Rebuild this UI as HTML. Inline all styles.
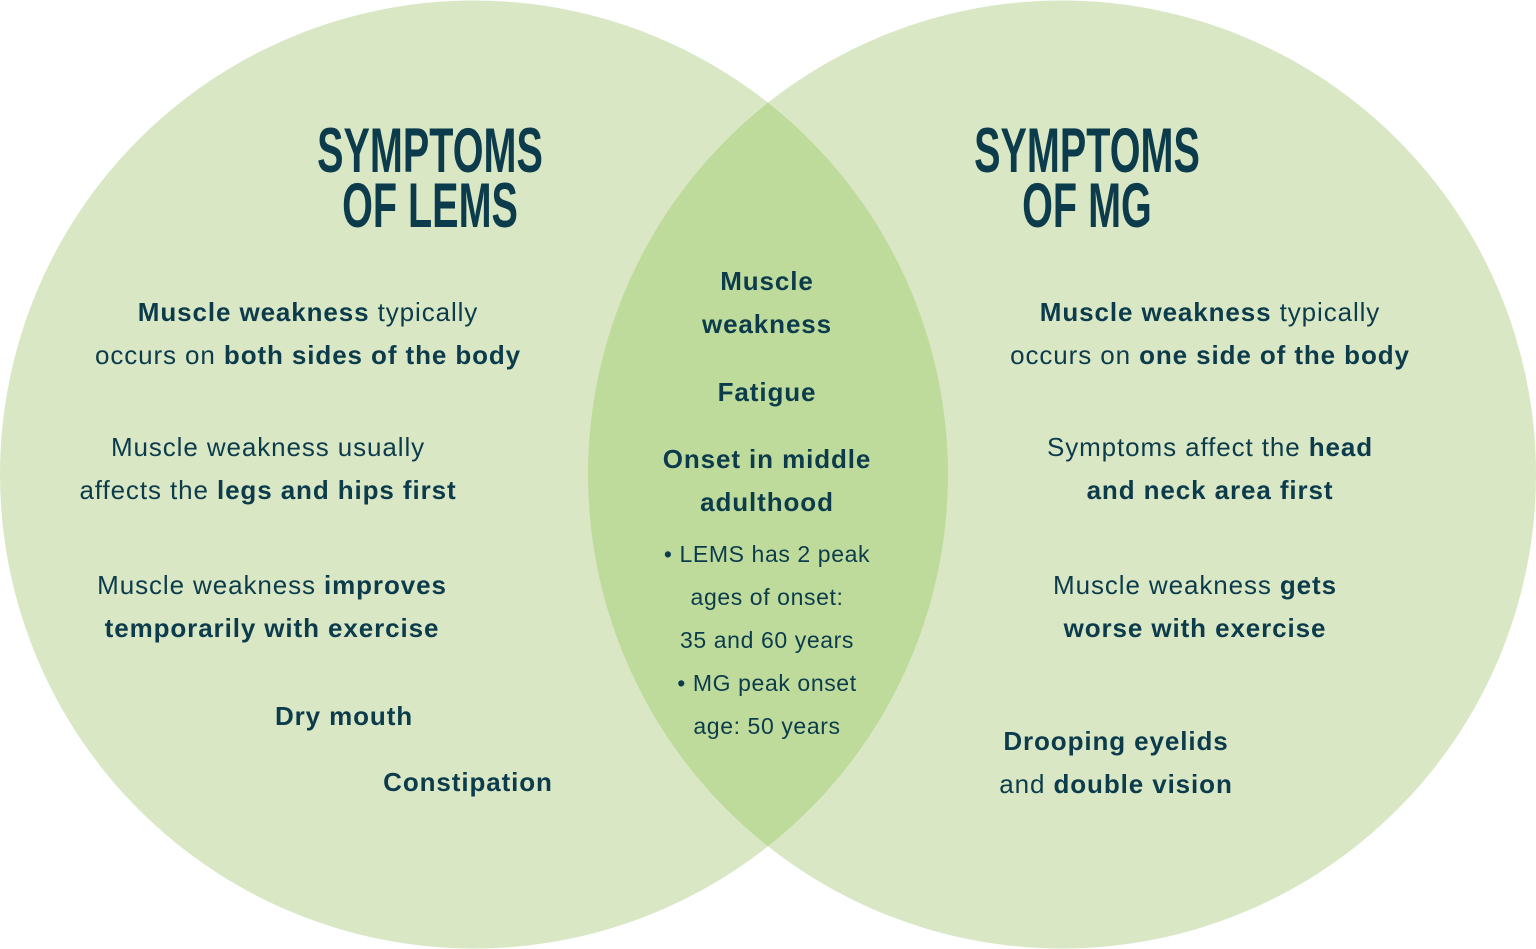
<!DOCTYPE html>
<html><head><meta charset="utf-8"><style>
body{margin:0;width:1536px;height:949px;background:#fff;position:relative;overflow:hidden;font-family:"Liberation Sans",sans-serif;color:#0c3c4c}
.l{position:absolute;width:600px;height:40px;line-height:40px;text-align:center;font-size:26px;white-space:nowrap;letter-spacing:0.9px}
.s{font-size:23px;letter-spacing:0.6px}
.t{position:absolute;width:600px;height:60px;line-height:60px;text-align:center;font-size:63px;font-weight:bold;transform:scaleX(0.628);white-space:nowrap;color:#0c3c4c}
b{font-weight:bold}
</style></head><body>
<svg width="1536" height="949" style="position:absolute;left:0;top:0">
<defs><clipPath id="c"><circle cx="474" cy="474.5" r="474"/></clipPath></defs>
<circle cx="474" cy="474.5" r="474" fill="#d9e7c5"/>
<circle cx="1062" cy="474.5" r="474" fill="#d9e7c5"/>
<circle cx="1062" cy="474.5" r="474" fill="#bedb9c" clip-path="url(#c)"/>
</svg>
<div class="t" style="left:130px;top:121px">SYMPTOMS</div>
<div class="t" style="left:130px;top:176px">OF LEMS</div>
<div class="t" style="left:787px;top:121px">SYMPTOMS</div>
<div class="t" style="left:787px;top:176px">OF MG</div>

<div class="l" style="left:8px;top:292px"><b>Muscle weakness</b> typically</div>
<div class="l" style="left:8px;top:335px">occurs on <b>both sides of the body</b></div>
<div class="l" style="left:-32px;top:427px">Muscle weakness usually</div>
<div class="l" style="left:-32px;top:470px">affects the <b>legs and hips first</b></div>
<div class="l" style="left:-28px;top:565px">Muscle weakness <b>improves</b></div>
<div class="l" style="left:-28px;top:608px"><b>temporarily with exercise</b></div>
<div class="l" style="left:44px;top:696px"><b>Dry mouth</b></div>
<div class="l" style="left:168px;top:762px"><b>Constipation</b></div>

<div class="l" style="left:467px;top:261px"><b>Muscle</b></div>
<div class="l" style="left:467px;top:304px"><b>weakness</b></div>
<div class="l" style="left:467px;top:372px"><b>Fatigue</b></div>
<div class="l" style="left:467px;top:439px"><b>Onset in middle</b></div>
<div class="l" style="left:467px;top:482px"><b>adulthood</b></div>
<div class="l s" style="left:467px;top:534px">• LEMS has 2 peak</div>
<div class="l s" style="left:467px;top:577px">ages of onset:</div>
<div class="l s" style="left:467px;top:620px">35 and 60 years</div>
<div class="l s" style="left:467px;top:663px">• MG peak onset</div>
<div class="l s" style="left:467px;top:706px">age: 50 years</div>

<div class="l" style="left:910px;top:292px"><b>Muscle weakness</b> typically</div>
<div class="l" style="left:910px;top:335px">occurs on <b>one side of the body</b></div>
<div class="l" style="left:910px;top:427px">Symptoms affect the <b>head</b></div>
<div class="l" style="left:910px;top:470px"><b>and neck area first</b></div>
<div class="l" style="left:895px;top:565px">Muscle weakness <b>gets</b></div>
<div class="l" style="left:895px;top:608px"><b>worse with exercise</b></div>
<div class="l" style="left:816px;top:721px"><b>Drooping eyelids</b></div>
<div class="l" style="left:816px;top:764px">and <b>double vision</b></div>
</body></html>
